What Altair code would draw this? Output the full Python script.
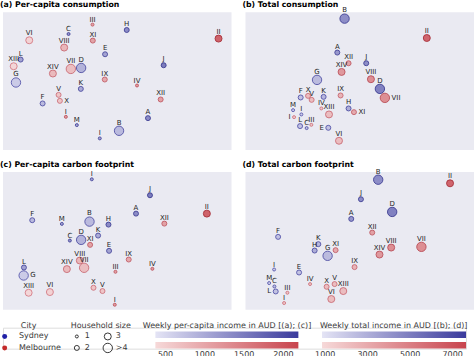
import altair as alt
import pandas as pd

# ---------------- data ----------------
SYD = ["A", "B", "C", "D", "E", "F", "G", "H", "I", "J", "K", "L", "M"]
MEL = ["I", "II", "III", "IV", "V", "VI", "VII", "VIII", "IX", "X", "XI", "XII", "XIII", "XIV"]
CITIES = ["Sydney", "Melbourne"]

HH_SYD = [2, 4, 1, 4, 2, 2, 4, 2, 1, 2, 2, 2, 1]
HH_MEL = [1, 3, 1, 1, 2, 3, 4, 3, 2, 2, 2, 2, 3, 3]
HH_LEVELS = [1, 2, 3, 4]
HH_LABELS = ["1", "2", "3", ">4"]

PC_INC_SYD = [1500, 900, 1400, 1000, 1200, 900, 700, 1500, 1200, 1700, 1100, 1200, 1200]
PC_INC_MEL = [1300, 2100, 1200, 1300, 700, 500, 800, 900, 1100, 700, 1200, 1200, 450, 850]
TOT_INC_SYD = [4500, 5000, 2500, 5500, 2500, 2500, 2800, 3500, 2000, 5000, 3000, 2500, 2000]
TOT_INC_MEL = [1800, 7200, 2000, 2000, 2500, 2500, 5000, 5000, 3000, 2500, 3500, 4000, 2500, 4500]

PC_RANGE = [370, 2190]
PC_TICKS = [500, 1000, 1500, 2000]
TOT_RANGE = [850, 7630]
TOT_TICKS = [1000, 3000, 5000, 7000]

TITLES = ["(a) Per-capita consumption", "(b) Total consumption",
          "(c) Per-capita carbon footprint", "(d) Total carbon footprint"]
PC_TITLE = "Weekly per-capita income in AUD [(a); (c)]"
TOT_TITLE = "Weekly total income in AUD [(b); (d)]"

# panel coordinates (arbitrary map units, y growing downwards)
A_SYD_X = [145.3, 116.3, 65.7, 78.3, 102.3, 39.7, 13, 124, 97, 161, 78, 17.7, 74]
A_SYD_Y = [106, 118.7, 21.7, 55.7, 42, 91.3, 70.3, 17.7, 126.3, 53, 76.7, 47.3, 113]
A_MEL_X = [63, 216, 89.7, 134.3, 55.7, 26.3, 68, 61.3, 102, 57, 90, 158, 10.7, 50]
A_MEL_Y = [104.7, 26.3, 12.3, 73.3, 82.7, 28, 56.7, 35.3, 67.3, 88.7, 28.3, 87.3, 54, 61.3]

B_SYD_X = [92, 99.3, 61.3, 134.7, 83, 55.3, 71.7, 103.3, 56, 121, 78.3, 54.7, 47.7]
B_SYD_Y = [40.3, 6.3, 116, 76.7, 115.7, 85.3, 67.7, 96.3, 102.3, 51, 84.7, 114, 98]
B_MEL_X = [48.7, 181.7, 66, 76, 66.3, 93.7, 139.7, 125.7, 95.3, 62.7, 108.7, 103.3, 83.7, 96.3]
B_MEL_Y = [105, 25.7, 112.7, 96.3, 87.7, 128.7, 85.7, 67, 83.3, 83.7, 100, 51, 102.3, 59.7]

C_SYD_X = [133.3, 86.7, 67, 78.3, 106.3, 29.3, 20.7, 105.7, 89, 147.3, 95.3, 21, 59]
C_SYD_Y = [41.7, 49.7, 68.7, 68, 79, 48.3, 103.7, 52.7, 7.3, 23.3, 63.7, 95.7, 52]
C_MEL_X = [112, 204.3, 112.7, 149.7, 99.7, 47, 81.3, 77, 126, 90.7, 87.3, 161.7, 25.7, 64]
C_MEL_Y = [133, 41.7, 100, 97, 119.3, 120.3, 96, 88.7, 87.7, 116, 73, 51.7, 121, 97.3]

D_SYD_X = [106, 133, 29, 147, 53.7, 32.7, 82.3, 69.3, 28.7, 115.7, 73, 30.3, 23.7]
D_SYD_Y = [47, 7.7, 114.7, 40, 100.7, 65, 84, 78.7, 97.7, 27.3, 72.3, 119.7, 111.3]
D_MEL_X = [38.7, 205, 42, 64.7, 89.3, 86, 176.3, 146, 109.3, 81.3, 90.3, 127, 98, 134.3]
D_MEL_Y = [131.3, 11.3, 121, 112.3, 112.3, 127.3, 75, 75.7, 95.3, 115, 78.3, 60.7, 119.3, 82.7]

# label side (t = above, r = right, l = left), default above
SIDE_A = {"Melbourne:X": "r"}
SIDE_B = {"Melbourne:VII": "r", "Melbourne:I": "l", "Sydney:E": "l", "Melbourne:XI": "r"}
SIDE_C = {"Sydney:G": "r"}
SIDE_D = {"Sydney:L": "l"}

# ---------------- styling ----------------
W, H = 229, 138
FONT = "DejaVu Sans"
BG = "#EAEAF2"
SYD_FILL = ["#e4e4f5", "#3a3a9c"]
MEL_FILL = ["#f6d9d9", "#c8444d"]
SYD_STROKE = ["#6262b6", "#2a2a80"]
MEL_STROKE = ["#d6808a", "#a52c36"]
SIZE_RANGE = [9, 25, 49, 88]
TXT = "#262626"
LEG_TXT = "#3a3a3a"
TITLE_FS = 7.8
LEG_FS = 8


def frame(sx, sy, mx, my, inc_s, inc_m, sides):
    rows = []
    for i, lab in enumerate(SYD):
        rows.append(dict(city="Sydney", label=lab, hh=HH_SYD[i], inc=inc_s[i],
                         x=sx[i], y=sy[i], side=sides.get("Sydney:" + lab, "t")))
    for i, lab in enumerate(MEL):
        rows.append(dict(city="Melbourne", label=lab, hh=HH_MEL[i], inc=inc_m[i],
                         x=mx[i], y=my[i], side=sides.get("Melbourne:" + lab, "t")))
    return pd.DataFrame(rows)


def text_mark(text, x, y, align="left", bold=True, color="black", fs=TITLE_FS):
    return alt.Chart(pd.DataFrame({"t": [text]})).mark_text(
        align=align, baseline="alphabetic", fontSize=fs, font=FONT,
        fontWeight="bold" if bold else "normal", color=color,
    ).encode(x=alt.value(x), y=alt.value(y), text="t:N")


def panel(df, title, dom):
    xs = alt.Scale(domain=[0, W], nice=False, zero=False)
    ys = alt.Scale(domain=[0, H], nice=False, zero=False, reverse=True)
    size = alt.Size("hh:Q", scale=alt.Scale(type="linear", domain=HH_LEVELS, range=SIZE_RANGE), legend=None)
    base = alt.Chart(df)
    layers = []
    for city, fr, sr in [("Sydney", SYD_FILL, SYD_STROKE), ("Melbourne", MEL_FILL, MEL_STROKE)]:
        layers.append(
            base.transform_filter(alt.datum.city == city)
            .mark_point(shape="circle", filled=True, opacity=1, fillOpacity=0.85, strokeWidth=0.9)
            .encode(
                x=alt.X("x:Q", scale=xs, axis=None),
                y=alt.Y("y:Q", scale=ys, axis=None),
                size=size,
                fill=alt.Fill("inc:Q", scale=alt.Scale(domain=dom, range=fr, interpolate="rgb"), legend=None),
                stroke=alt.Stroke("inc:Q", scale=alt.Scale(domain=dom, range=sr, interpolate="rgb"), legend=None),
            )
        )
    rexpr = "datum.hh == 1 ? 2.0 : datum.hh == 2 ? 3.0 : datum.hh == 3 ? 4.0 : 5.2"
    txt = base.transform_calculate(r=rexpr)
    specs = [
        ("t", "datum.x", "datum.y - datum.r - 1", "center", "alphabetic"),
        ("r", "datum.x + datum.r + 1.5", "datum.y", "left", "middle"),
        ("l", "datum.x - datum.r - 1.5", "datum.y", "right", "middle"),
    ]
    for side, ex, ey, al, bl in specs:
        layers.append(
            txt.transform_filter(alt.datum.side == side)
            .transform_calculate(lx=ex, ly=ey)
            .mark_text(align=al, baseline=bl, fontSize=7, color=TXT, font=FONT)
            .encode(
                x=alt.X("lx:Q", scale=xs, axis=None),
                y=alt.Y("ly:Q", scale=ys, axis=None),
                text="label:N",
            )
        )
    layers.append(text_mark(title, -3, -5))
    return (
        alt.layer(*layers)
        .resolve_scale(fill="independent", stroke="independent")
        .properties(width=W, height=H, view=alt.ViewBackground(fill=BG, stroke=None))
    )


pa = panel(frame(A_SYD_X, A_SYD_Y, A_MEL_X, A_MEL_Y, PC_INC_SYD, PC_INC_MEL, SIDE_A), TITLES[0], PC_RANGE)
pb = panel(frame(B_SYD_X, B_SYD_Y, B_MEL_X, B_MEL_Y, TOT_INC_SYD, TOT_INC_MEL, SIDE_B), TITLES[1], TOT_RANGE)
pc = panel(frame(C_SYD_X, C_SYD_Y, C_MEL_X, C_MEL_Y, PC_INC_SYD, PC_INC_MEL, SIDE_C), TITLES[2], PC_RANGE)
pdd = panel(frame(D_SYD_X, D_SYD_Y, D_MEL_X, D_MEL_Y, TOT_INC_SYD, TOT_INC_MEL, SIDE_D), TITLES[3], TOT_RANGE)

# ---------------- legend row (one layered chart) ----------------
LH = 21
ROWS_Y = [8.8, 20.3]

city_df = pd.DataFrame({"city": CITIES})
city_y = alt.Y("city:N", scale=alt.Scale(type="point", domain=CITIES, range=ROWS_Y, padding=0), axis=None)
city_dots = alt.Chart(city_df).mark_circle(size=25, opacity=1).encode(
    x=alt.value(1.7), y=city_y,
    color=alt.Color("city:N", scale=alt.Scale(domain=CITIES, range=["#1f1fa6", "#c32a2a"]), legend=None),
)
city_txt = alt.Chart(city_df).mark_text(align="left", baseline="middle", fontSize=LEG_FS, font=FONT, color=LEG_TXT).encode(
    x=alt.value(16), y=city_y, text="city:N"
)

hh_df = pd.DataFrame({"hh": HH_LEVELS, "lab": HH_LABELS, "col": [0, 0, 1, 1], "row": [0, 1, 0, 1]})
hh_x = alt.X("col:O", scale=alt.Scale(type="point", domain=[0, 1], range=[74, 105], padding=0), axis=None)
hh_y = alt.Y("row:O", scale=alt.Scale(type="point", domain=[0, 1], range=ROWS_Y, padding=0), axis=None)
hh_pts = alt.Chart(hh_df).mark_point(shape="circle", filled=False, opacity=1, color="#222222", strokeWidth=0.9).encode(
    x=hh_x, y=hh_y,
    size=alt.Size("hh:Q", scale=alt.Scale(type="linear", domain=HH_LEVELS, range=SIZE_RANGE), legend=None),
)
hh_txt = alt.Chart(hh_df).mark_text(align="left", baseline="middle", dx=8, fontSize=LEG_FS, font=FONT, color=LEG_TXT).encode(
    x=hh_x, y=hh_y, text="lab:N"
)


def grad(cols):
    return alt.LinearGradient(gradient="linear",
                              stops=[alt.GradientStop(color=cols[0], offset=0),
                                     alt.GradientStop(color=cols[1], offset=1)],
                              x1=0, x2=1, y1=0, y2=0)


def cbar_layers(rng, ticks, px):
    sc = alt.Scale(domain=rng, range=px, nice=False, zero=False)
    d = pd.DataFrame({"lo": [rng[0]], "hi": [rng[1]]})
    t = pd.DataFrame({"v": ticks})
    top = alt.Chart(d).mark_rect(color=grad(SYD_FILL)).encode(
        x=alt.X("lo:Q", scale=sc, axis=None), x2="hi:Q", y=alt.value(3.8), y2=alt.value(10.3))
    bot = alt.Chart(d).mark_rect(color=grad(MEL_FILL)).encode(
        x=alt.X("lo:Q", scale=sc, axis=None), x2="hi:Q", y=alt.value(14.3), y2=alt.value(20.8))
    lab = alt.Chart(t).mark_text(baseline="top", align="center", fontSize=LEG_FS, font=FONT, color=LEG_TXT).encode(
        x=alt.X("v:Q", scale=sc, axis=None), y=alt.value(LH + 2), text=alt.Text("v:Q", format="d"))
    return [top, bot, lab]


legend = alt.layer(
    city_dots, city_txt, text_mark("City", 25.7, 0, "center", False, LEG_TXT, LEG_FS),
    hh_pts, hh_txt, text_mark("Household size", 98, 0, "center", False, LEG_TXT, LEG_FS),
    *cbar_layers(PC_RANGE, PC_TICKS, [152.7, 296]),
    text_mark(PC_TITLE, 224.5, 0, "center", False, LEG_TXT, LEG_FS),
    *cbar_layers(TOT_RANGE, TOT_TICKS, [319.7, 464]),
    text_mark(TOT_TITLE, 391.5, 0, "center", False, LEG_TXT, LEG_FS),
).resolve_scale(x="independent", y="independent", color="independent", size="independent").properties(
    width=464, height=LH)

IND = dict(x="independent", y="independent", fill="independent", stroke="independent",
           size="independent", color="independent")

row1 = alt.hconcat(pa, pb, spacing=11).resolve_scale(**IND)
row2 = alt.hconcat(pc, pdd, spacing=11).resolve_scale(**IND)

chart = (
    alt.vconcat(row1, row2, legend, spacing=11)
    .resolve_scale(**IND)
    .properties(padding={"left": 0, "top": 1, "right": 0, "bottom": 0}, background="white")
    .configure_view(stroke=None)
    .configure(font=FONT)
)

chart.save("out.html", embed_options={"renderer": "svg", "actions": False})
